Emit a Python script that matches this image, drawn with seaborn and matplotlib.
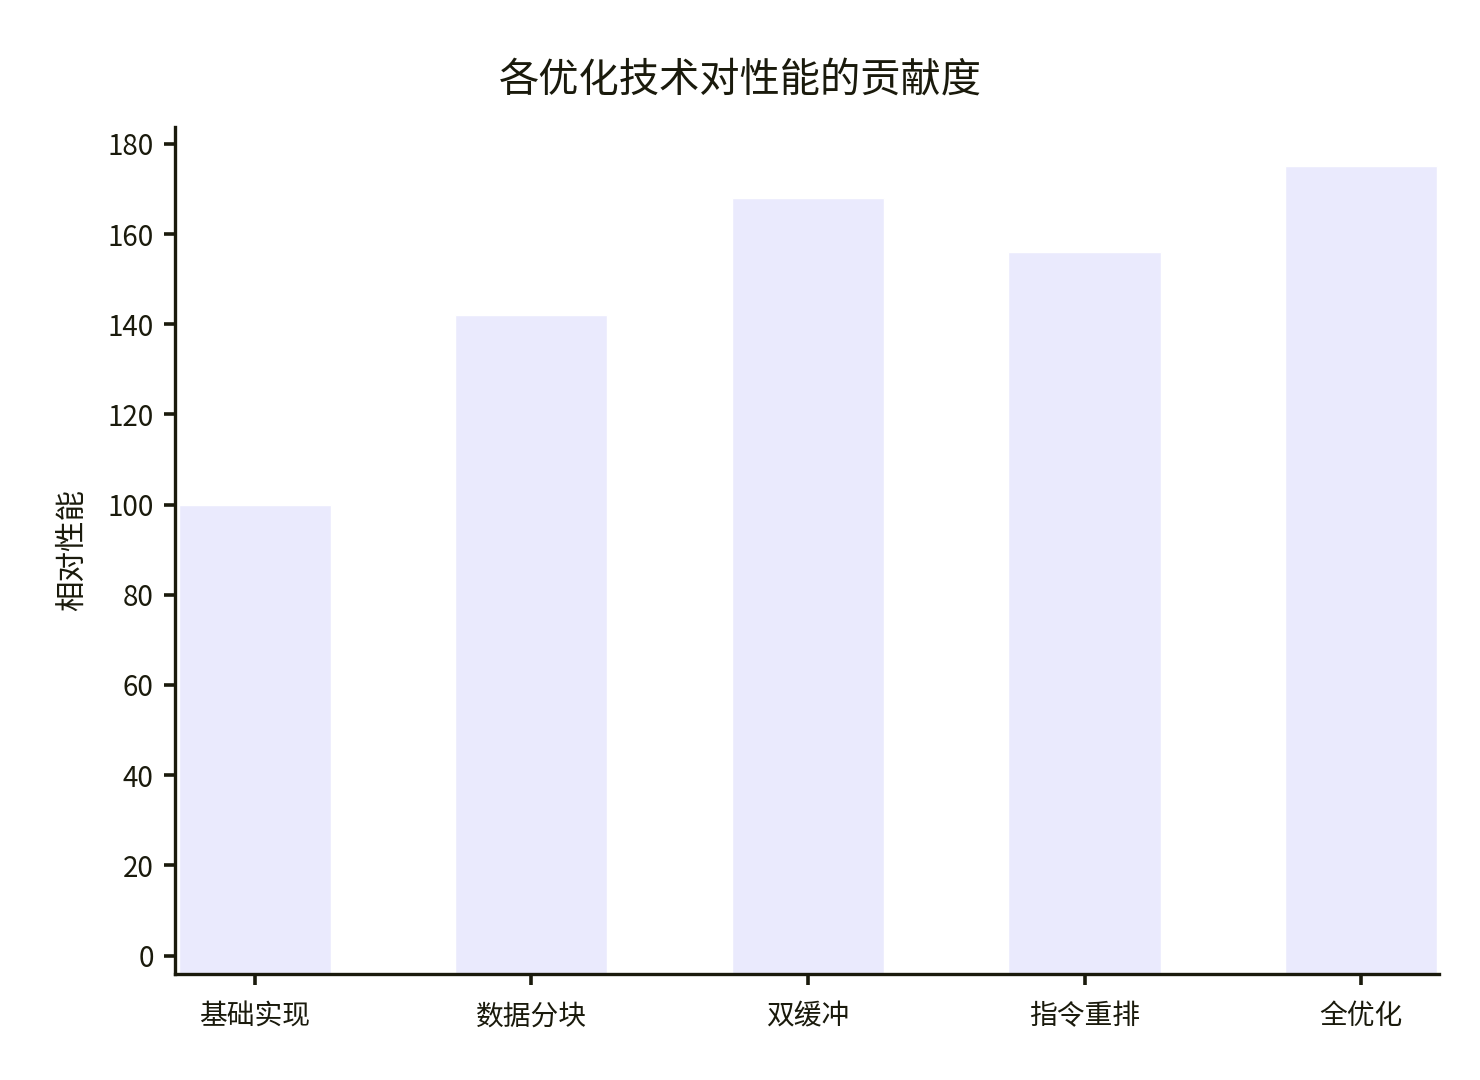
import pandas as pd
import numpy as np
import matplotlib.pyplot as plt
import seaborn as sns

# data
techniques = ['基础实现', '数据分块', '双缓冲', '指令重排', '全优化']
performance = [100, 142, 168, 156, 175]
y_ticks = [0, 20, 40, 60, 80, 100, 120, 140, 160, 180]

bar_color = '#EAEAFD'
ink = '#1a1a0c'

sns.set_theme(style='white')
plt.rcParams['font.family'] = ['Noto Sans CJK SC', 'DejaVu Sans']
plt.rcParams['text.color'] = ink
plt.rcParams['axes.labelcolor'] = ink
plt.rcParams['xtick.color'] = ink
plt.rcParams['ytick.color'] = ink

df = pd.DataFrame({'technique': techniques, 'performance': performance})

fig = plt.figure(figsize=(14.8, 10.8), dpi=100)
ax = fig.add_axes([0.118, 0.0985, 0.854, 0.784])

sns.barplot(data=df, x='technique', y='performance', color=bar_color,
            width=0.55, saturation=1, ax=ax)

ax.set_xlim(-0.29, 4.28)
ax.set_ylim(-4, 183.75)

# bars run down to the bottom spine, like in the reference
ymin = ax.get_ylim()[0]
for p in ax.patches:
    h = p.get_height()
    p.set_y(ymin)
    p.set_height(h - ymin)

ax.set_yticks(y_ticks)
fig.suptitle('各优化技术对性能的贡献度', fontsize=29, x=0.5, y=0.926, va='center')
ax.set_xlabel('')
ax.set_ylabel('相对性能', fontsize=22, labelpad=14)

sns.despine(ax=ax)
for side in ['left', 'bottom']:
    ax.spines[side].set_color(ink)
    ax.spines[side].set_linewidth(2.4)

ax.tick_params(axis='both', which='major', labelsize=20, length=8, width=2.6,
               direction='out', pad=7, bottom=True, left=True)
ax.tick_params(axis='x', pad=12)

fig.savefig('out.png', dpi=100)
